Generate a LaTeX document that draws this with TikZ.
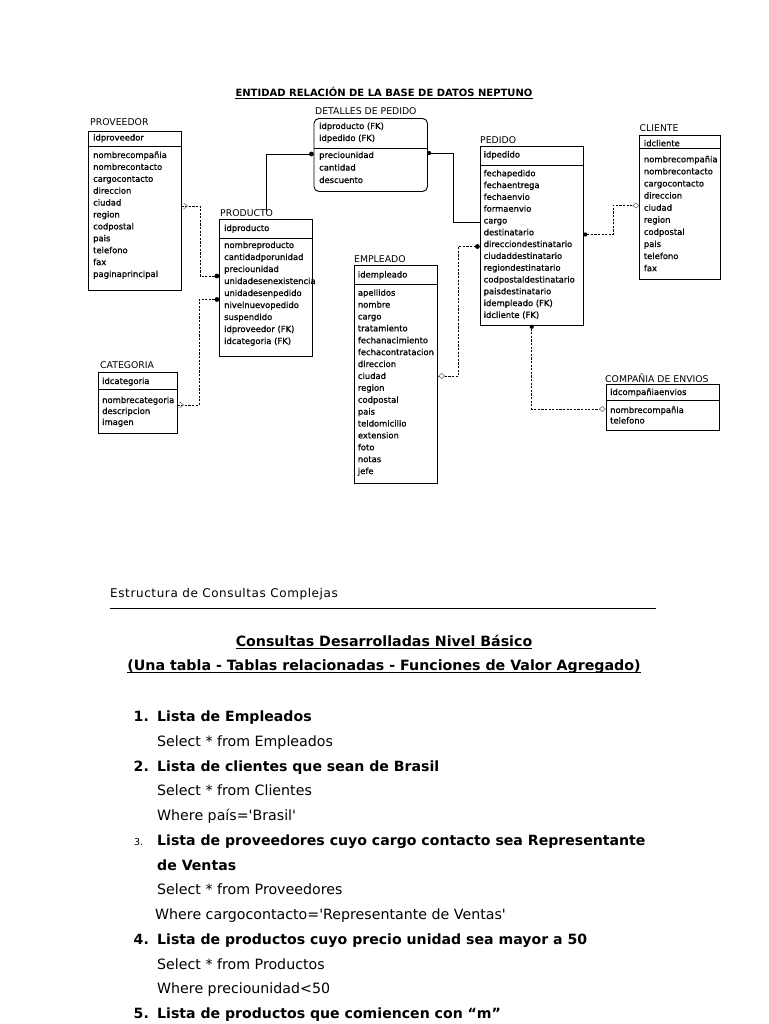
\documentclass[tikz,border=0pt]{standalone}
\usepackage{fontspec}
\newfontfamily\dv{DejaVu Sans}
\newfontfamily\dvfb{DejaVu Sans}[FakeBold=0.9]
\newcommand\erf{\dvfb\fontsize{8.4}{10}\selectfont}
\newcommand\erl{\dv\fontsize{9.3}{11}\selectfont}
\newcommand\titlef{\dv\bfseries\fontsize{10}{12}\selectfont}
\newcommand\bodyr{\dv\fontsize{14.2}{16}\selectfont}
\newcommand\bodyb{\dv\bfseries\fontsize{14.1}{16}\selectfont}
\newcommand\headf{\dv\bfseries\fontsize{14.2}{16}\selectfont}
\newcommand\smallhd{\dv\fontsize{12}{14}\selectfont\addfontfeature{LetterSpace=5}}
\newcommand\numsm{\dv\fontsize{9.5}{12}\selectfont}
\begin{document}
\begin{tikzpicture}[x=1pt,y=-1pt,
  ebox/.style={draw, line width=0.9pt, inner sep=0pt, outer sep=0pt, anchor=north west},
  sepl/.style={line width=0.9pt},
  attr/.style={anchor=base west, inner sep=0pt, font=\erf},
  elab/.style={anchor=base west, inner sep=0pt, font=\erl},
  sconn/.style={line width=0.9pt},
  dconn/.style={line width=0.8pt, dash pattern=on 2.2pt off 1.4pt},
  mkopen/.style={draw=black!55, fill=white, line width=0.6pt},
  mkchev/.style={draw=black!55, line width=0.6pt},
  bodytxt/.style={anchor=base west, inner sep=0pt, font=\bodyr},
  itemtxt/.style={anchor=base west, inner sep=0pt, font=\bodyb},
  numtxt/.style={anchor=base west, inner sep=0pt, font=\bodyb},
]
\useasboundingbox[fill=white] (0,0) rectangle (768,1024);

% ---------- title ----------
\node[anchor=base, inner sep=0pt, font=\titlef] (title) at (384,96.5) {ENTIDAD RELACIÓN DE LA BASE DE DATOS NEPTUNO};
\draw[line width=0.8pt] ([yshift=-1.6pt]title.base west) -- ([yshift=-1.6pt]title.base east);

% ---------- PROVEEDOR ----------
\node[ebox, minimum width=93pt, minimum height=159pt] (prov) at (88.5,131.5) {};
\draw[sepl] ([yshift=-15pt]prov.north west) -- ([yshift=-15pt]prov.north east);
\node[elab] (prov-l) at (90,125.5) {PROVEEDOR};
\node[attr] (prov-k) at (93,140.5) {idproveedor};
\foreach \nm [count=\i from 0] in {nombrecompañia,nombrecontacto,cargocontacto,direccion,ciudad,region,codpostal,pais,telefono,fax,paginaprincipal}
  \node[attr] (prov-\i) at (93,{158+11.9*\i}) {\nm};

% ---------- PRODUCTO ----------
\node[ebox, minimum width=93pt, minimum height=136.5pt] (prod) at (219.5,219.5) {};
\draw[sepl] ([yshift=-19pt]prod.north west) -- ([yshift=-19pt]prod.north east);
\node[elab] (prod-l) at (220,216.5) {PRODUCTO};
\node[attr] (prod-k) at (224,231) {idproducto};
\foreach \nm [count=\i from 0] in {nombreproducto,cantidadporunidad,preciounidad,unidadesenexistencia,unidadesenpedido,nivelnuevopedido,suspendido,idproveedor (FK),idcategoria (FK)}
  \node[attr] (prod-\i) at (224,{248+12*\i}) {\nm};

% ---------- CATEGORIA ----------
\node[ebox, minimum width=79pt, minimum height=60.5pt] (cat) at (98.5,372.5) {};
\draw[sepl] ([yshift=-16.5pt]cat.north west) -- ([yshift=-16.5pt]cat.north east);
\node[elab] (cat-l) at (100,368.5) {CATEGORIA};
\node[attr] (cat-k) at (102,384) {idcategoria};
\foreach \nm [count=\i from 0] in {nombrecategoria,descripcion,imagen}
  \node[attr] (cat-\i) at (102,{403+11*\i}) {\nm};

% ---------- DETALLES DE PEDIDO ----------
\node[ebox, rounded corners=5pt, minimum width=113.5pt, minimum height=73pt] (det) at (314,118.5) {};
\draw[sepl] ([yshift=-30pt]det.north west) -- ([yshift=-30pt]det.north east);
\node[elab] (det-l) at (315,115) {DETALLES DE PEDIDO};
\node[attr] (det-k1) at (319,129) {idproducto (FK)};
\node[attr] (det-k2) at (319,141) {idpedido (FK)};
\foreach \nm [count=\i from 0] in {preciounidad,cantidad,descuento}
  \node[attr] (det-\i) at (319,{158+12.5*\i}) {\nm};

% ---------- PEDIDO ----------
\node[ebox, minimum width=103.5pt, minimum height=178.5pt] (ped) at (480,146.5) {};
\draw[sepl] ([yshift=-18.5pt]ped.north west) -- ([yshift=-18.5pt]ped.north east);
\node[elab] (ped-l) at (480,143.5) {PEDIDO};
\node[attr] (ped-k) at (483.5,157.5) {idpedido};
\foreach \nm [count=\i from 0] in {fechapedido,fechaentrega,fechaenvio,formaenvio,cargo,destinatario,direcciondestinatario,ciudaddestinatario,regiondestinatario,codpostaldestinatario,paisdestinatario,idempleado (FK),idcliente (FK)}
  \node[attr] (ped-\i) at (483.5,{176.3+11.8*\i}) {\nm};

% ---------- EMPLEADO ----------
\node[ebox, minimum width=83.5pt, minimum height=218pt] (emp) at (354,265.5) {};
\draw[line width=1.8pt] ([yshift=-0.5pt]emp.north east) -- (emp.south east) -- (emp.south west);
\draw[sepl] ([yshift=-19pt]emp.north west) -- ([yshift=-19pt]emp.north east);
\node[elab] (emp-l) at (354,262.5) {EMPLEADO};
\node[attr] (emp-k) at (357.7,277.5) {idempleado};
\foreach \nm [count=\i from 0] in {apellidos,nombre,cargo,tratamiento,fechanacimiento,fechacontratacion,direccion,ciudad,region,codpostal,pais,teldomicilio,extension,foto,notas,jefe}
  \node[attr] (emp-\i) at (357.7,{295.7+11.89*\i}) {\nm};

% ---------- CLIENTE ----------
\node[ebox, minimum width=81pt, minimum height=143.5pt] (cli) at (639.5,135.5) {};
\draw[sepl] ([yshift=-13pt]cli.north west) -- ([yshift=-13pt]cli.north east);
\node[elab] (cli-l) at (639.5,132) {CLIENTE};
\node[attr] (cli-k) at (643.7,146.3) {idcliente};
\foreach \nm [count=\i from 0] in {nombrecompañia,nombrecontacto,cargocontacto,direccion,ciudad,region,codpostal,pais,telefono,fax}
  \node[attr] (cli-\i) at (643.7,{162.3+12.1*\i}) {\nm};

% ---------- COMPAÑIA DE ENVIOS ----------
\node[ebox, minimum width=113pt, minimum height=46pt] (comp) at (606,384) {};
\draw[sepl] ([yshift=-16pt]comp.north west) -- ([yshift=-16pt]comp.north east);
\node[elab] (comp-l) at (605,382.3) {COMPAÑIA DE ENVIOS};
\node[attr] (comp-k) at (610,395) {idcompañiaenvios};
\node[attr] (comp-0) at (610,413) {nombrecompañia};
\node[attr] (comp-1) at (610,423.5) {telefono};

% ---------- connector end points ----------
\coordinate (s1) at ([yshift=-74.5pt]prov.north east);
\coordinate (e1) at ([yshift=-56.5pt]prod.north west);
\coordinate (s2) at ([yshift=-32.5pt]cat.north east);
\coordinate (e2) at ([yshift=-80pt]prod.north west);
\coordinate (s3) at ([yshift=8pt]prod.north);
\coordinate (e3) at ([yshift=-35.5pt]det.north west);
\coordinate (s4) at ([yshift=-34.5pt]det.north east);
\coordinate (e4) at ([yshift=-76pt]ped.north west);
\coordinate (s5) at ([yshift=-110.5pt]emp.north east);
\coordinate (e5) at ([yshift=-100pt]ped.north west);
\coordinate (s6) at ([yshift=-70pt]cli.north west);
\coordinate (e6) at ([yshift=-88pt]ped.north east);
\coordinate (s7) at (ped.south);
\coordinate (e7) at ([yshift=-25pt]comp.north west);

% ---------- connectors ----------
\draw[dconn] (s1) -- ++(18.5,0) |- (e1);
\draw[dconn] (s2) -- ++(21.5,0) |- (e2);
\draw[sconn] (s3) |- (e3);
\draw[sconn] (s4) -- ++(26,0) |- (e4);
\draw[dconn] (s5) -- ++(21,0) |- (e5);
\draw[dconn] (s6) -- ++(-26.5,0) |- (e6);
\draw[dconn] (s7) |- (e7);

% ---------- markers ----------
\fill ([xshift=-2.6pt]e1) circle[radius=2.4pt];
\fill ([xshift=-2.6pt]e2) circle[radius=2.4pt];
\fill ([xshift=-2.6pt]e3) circle[radius=2.4pt];
\fill ([xshift=-2.6pt]e5) circle[radius=2.4pt];
\fill ([xshift=1.6pt]s4) circle[radius=2.1pt];
\fill ([xshift=1.8pt]e6) circle[radius=2.1pt];
\fill ([yshift=-1.8pt]s7) circle[radius=2.1pt];
\draw[mkchev] ([xshift=2pt,yshift=3pt]s1) -- ([xshift=6pt]s1) -- ([xshift=2pt,yshift=-3pt]s1);
\draw[mkchev] ([xshift=2pt,yshift=3pt]s2) -- ([xshift=6pt]s2) -- ([xshift=2pt,yshift=-3pt]s2);
\draw[mkopen] ([xshift=-0.6pt]s6) -- ([xshift=-3.6pt,yshift=2.6pt]s6) -- ([xshift=-6.6pt]s6) -- ([xshift=-3.6pt,yshift=-2.6pt]s6) -- cycle;
\draw[mkopen] ([xshift=-0.6pt]e7) -- ([xshift=-3.6pt,yshift=2.6pt]e7) -- ([xshift=-6.6pt]e7) -- ([xshift=-3.6pt,yshift=-2.6pt]e7) -- cycle;
\draw[mkopen] ([xshift=1.2pt]s5) -- ([xshift=4.2pt,yshift=2.6pt]s5) -- ([xshift=7.2pt]s5) -- ([xshift=4.2pt,yshift=-2.6pt]s5) -- cycle;

% ---------- lower text ----------
\node[anchor=base west, inner sep=0pt, font=\smallhd] (est) at (110,597) {Estructura de Consultas Complejas};
\draw[line width=1pt] (110,608.5) -- (656,608.5);

\node[anchor=base, inner sep=0pt, font=\headf] (h1) at (384,646) {Consultas Desarrolladas Nivel Básico};
\draw[line width=1pt] ([yshift=-2.4pt]h1.base west) -- ([yshift=-2.4pt]h1.base east);
\node[anchor=base, inner sep=0pt, font=\headf] (h2) at (384,670) {(Una tabla - Tablas relacionadas - Funciones de Valor Agregado)};
\draw[line width=1pt] ([yshift=-2.4pt]h2.base west) -- ([yshift=-2.4pt]h2.base east);

\node[numtxt] (n1) at (133.5,721) {1.};
\node[itemtxt] (i1) at (157,721) {Lista de Empleados};
\node[bodytxt] (c1a) at (157,746) {Select * from Empleados};
\node[numtxt] (n2) at (133.5,771) {2.};
\node[itemtxt] (i2) at (157,771) {Lista de clientes que sean de Brasil};
\node[bodytxt] (c2a) at (157,795.5) {Select * from Clientes};
\node[bodytxt] (c2b) at (157,820) {Where país='Brasil'};
\node[anchor=base west, inner sep=0pt, font=\numsm] (n3) at (134,845) {3.};
\node[itemtxt] (i3) at (157,845) {Lista de proveedores cuyo cargo contacto sea Representante};
\node[itemtxt] (i3b) at (157,870) {de Ventas};
\node[bodytxt] (c3a) at (157,894.5) {Select * from Proveedores};
\node[bodytxt] (c3b) at (155,919) {Where cargocontacto='Representante de Ventas'};
\node[numtxt] (n4) at (133.5,944) {4.};
\node[itemtxt] (i4) at (157,944) {Lista de productos cuyo precio unidad sea mayor a 50};
\node[bodytxt] (c4a) at (157,969) {Select * from Productos};
\node[bodytxt] (c4b) at (157,993.5) {Where preciounidad<50};
\node[numtxt] (n5) at (133.5,1018.5) {5.};
\node[itemtxt] (i5) at (157,1018.5) {Lista de productos que comiencen con “m”};
\end{tikzpicture}
\end{document}
